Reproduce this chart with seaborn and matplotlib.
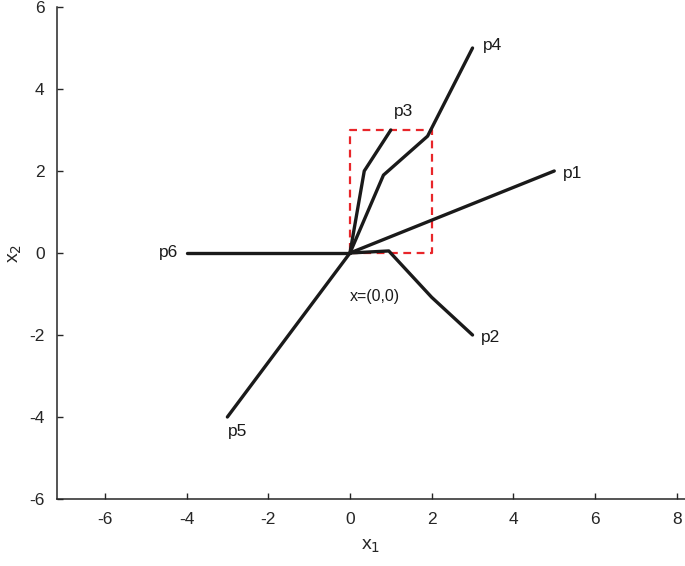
import matplotlib
matplotlib.use("Agg")
import matplotlib.pyplot as plt
import seaborn as sns
import pandas as pd

sns.set_style("ticks")
plt.rcParams['font.family'] = ['Liberation Sans', 'DejaVu Sans']
plt.rcParams['axes.unicode_minus'] = False

# path vertices
p1_x = [0, 5]
p1_y = [0, 2]
p2_x = [0, 0.95, 2.0, 3.0]
p2_y = [0, 0.05, -1.08, -2.0]
p3_x = [0, 0.35, 1.0]
p3_y = [0, 2.0, 3.0]
p4_x = [0, 0.82, 1.9, 3.0]
p4_y = [0, 1.9, 2.85, 5.0]
p5_x = [0, -3]
p5_y = [0, -4]
p6_x = [0, -4]
p6_y = [0, 0]

labels = ["p1", "p2", "p3", "p4", "p5", "p6"]
label_x = [5.45, 3.45, 1.3, 3.5, -2.75, -4.45]
label_y = [1.95, -2.05, 3.45, 5.05, -4.35, 0.0]

box_x = [0, 2, 2, 0, 0]
box_y = [0, 0, 3, 3, 0]

rows = []
for name, xs, ys in zip(labels, [p1_x, p2_x, p3_x, p4_x, p5_x, p6_x],
                        [p1_y, p2_y, p3_y, p4_y, p5_y, p6_y]):
    for i, (a, b) in enumerate(zip(xs, ys)):
        rows.append({"path": name, "order": i, "x1": a, "x2": b})
df = pd.DataFrame(rows)
box_df = pd.DataFrame({"x1": box_x, "x2": box_y, "order": range(len(box_x))})

fig = plt.figure(figsize=(6.85, 5.66), dpi=100)
ax = fig.add_axes([57/685, 67/566, 628/685, 492/566])

sns.lineplot(data=box_df, x="x1", y="x2", estimator=None, sort=False,
             color="#e8262a", linewidth=1.6, linestyle=(0, (3.5, 2.5)), ax=ax)
sns.lineplot(data=df, x="x1", y="x2", units="path", estimator=None, sort=False,
             color="#1a1a1a", linewidth=2.4, ax=ax)

for t, lx, ly in zip(labels, label_x, label_y):
    ax.text(lx, ly, t, fontsize=12.5, ha="center", va="center", color="#1a1a1a")
ax.text(0.0, -1.05, "x=(0,0)", fontsize=11.5, ha="left", va="center", color="#1a1a1a")

ax.set_xlim(-7.17, 8.2)
ax.set_ylim(-6, 6)
ax.set_xticks([-6, -4, -2, 0, 2, 4, 6, 8])
ax.set_yticks([-6, -4, -2, 0, 2, 4, 6])
ax.tick_params(direction="in", length=4, width=1, colors="#262626", labelsize=12.5, pad=9)
ax.set_xlabel("x$_1$", fontsize=14, labelpad=8)
ax.set_ylabel("x$_2$", fontsize=14, labelpad=4)
for s in ["top", "right"]:
    ax.spines[s].set_visible(False)
for s in ["left", "bottom"]:
    ax.spines[s].set_color("#262626")
    ax.spines[s].set_linewidth(1.1)

fig.savefig("out.png", dpi=100)
